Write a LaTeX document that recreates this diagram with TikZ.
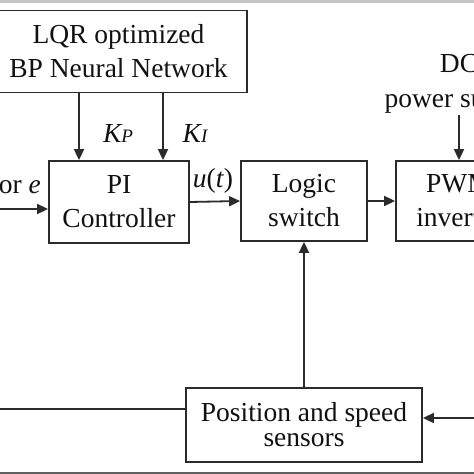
\documentclass[tikz,border=0pt]{standalone}
\usepackage{fontspec}
\setmainfont{Liberation Serif}
\usetikzlibrary{arrows.meta,calc}
\definecolor{ln}{HTML}{2B2B2B}
\definecolor{tx}{HTML}{111111}
\begin{document}
\begin{tikzpicture}[x=1pt,y=-1pt,
  blk/.style={draw=ln,line width=1.8pt,inner sep=0pt,align=center,text=tx,
    font=\fontsize{27.5}{34}\selectfont},
  lbl/.style={inner sep=0pt,text=tx,font=\fontsize{27.5}{34}\selectfont},
  conn/.style={draw=ln,line width=1.8pt},
  arr/.style={conn,-{Triangle[length=11pt,width=10pt]}}]
\useasboundingbox (0,0) rectangle (474,474);
\clip (0,0) rectangle (474,474);
% frame bands
\fill[gray!45] (0,0) rectangle (474,2.5);
\fill[black!62] (0,471.5) rectangle (474,474);
% blocks
\node[blk,minimum width=257pt,minimum height=82pt] (lqr) at (118.5,51.5) {LQR optimized\\BP Neural Network};
\node[blk,minimum width=140pt,minimum height=82pt] (pi) at (119,202) {PI\\Controller};
\node[blk,minimum width=126pt,minimum height=80pt] (logic) at (304,201) {Logic\\switch};
\node[blk,minimum width=126pt,minimum height=80pt] (pwm) at (459,201) {PWM\\inverter};
\node[blk,minimum width=236pt,minimum height=74pt,font=\fontsize{27.5}{25}\selectfont] (sens) at (304,425) {Position and speed\\sensors};
% labels
\node[lbl,align=center,font=\fontsize{27.5}{35}\selectfont] (dc) at (459,84) {DC\\power supply};
\node[lbl,anchor=base] (kp) at (118,142) {\itshape K\fontsize{19}{19}\selectfont P};
\node[lbl,anchor=base] (ki) at (195,142) {\itshape K\fontsize{19}{19}\selectfont I};
\node[lbl,anchor=base] (ut) at (213,187) {\textit{u}(\textit{t})};
\node[lbl,anchor=base east] (err) at (41,193) {or \textit{e}};
% coordinates
\coordinate (xkp) at (79,0);
\coordinate (xki) at (163,0);
\coordinate (inL) at (0,209);
\coordinate (fbL) at (0,409);
\coordinate (fbR) at (474,418);
\coordinate (dcs) at (459,115);
% connectors
\draw[arr] (lqr.south -| xkp) -- (pi.north -| xkp);
\draw[arr] (lqr.south -| xki) -- (pi.north -| xki);
\draw[arr] (inL) -- (pi.west |- inL);
\draw[arr] (pi.east) -- (logic.west);
\draw[arr] (logic.east) -- (pwm.west);
\draw[arr] (dcs) -- (pwm.north);
\draw[arr] (sens.north) -- (logic.south);
\draw[conn] (sens.west |- fbL) -- (fbL);
\draw[arr] (fbR) -- (sens.east |- fbR);
\end{tikzpicture}
\end{document}
